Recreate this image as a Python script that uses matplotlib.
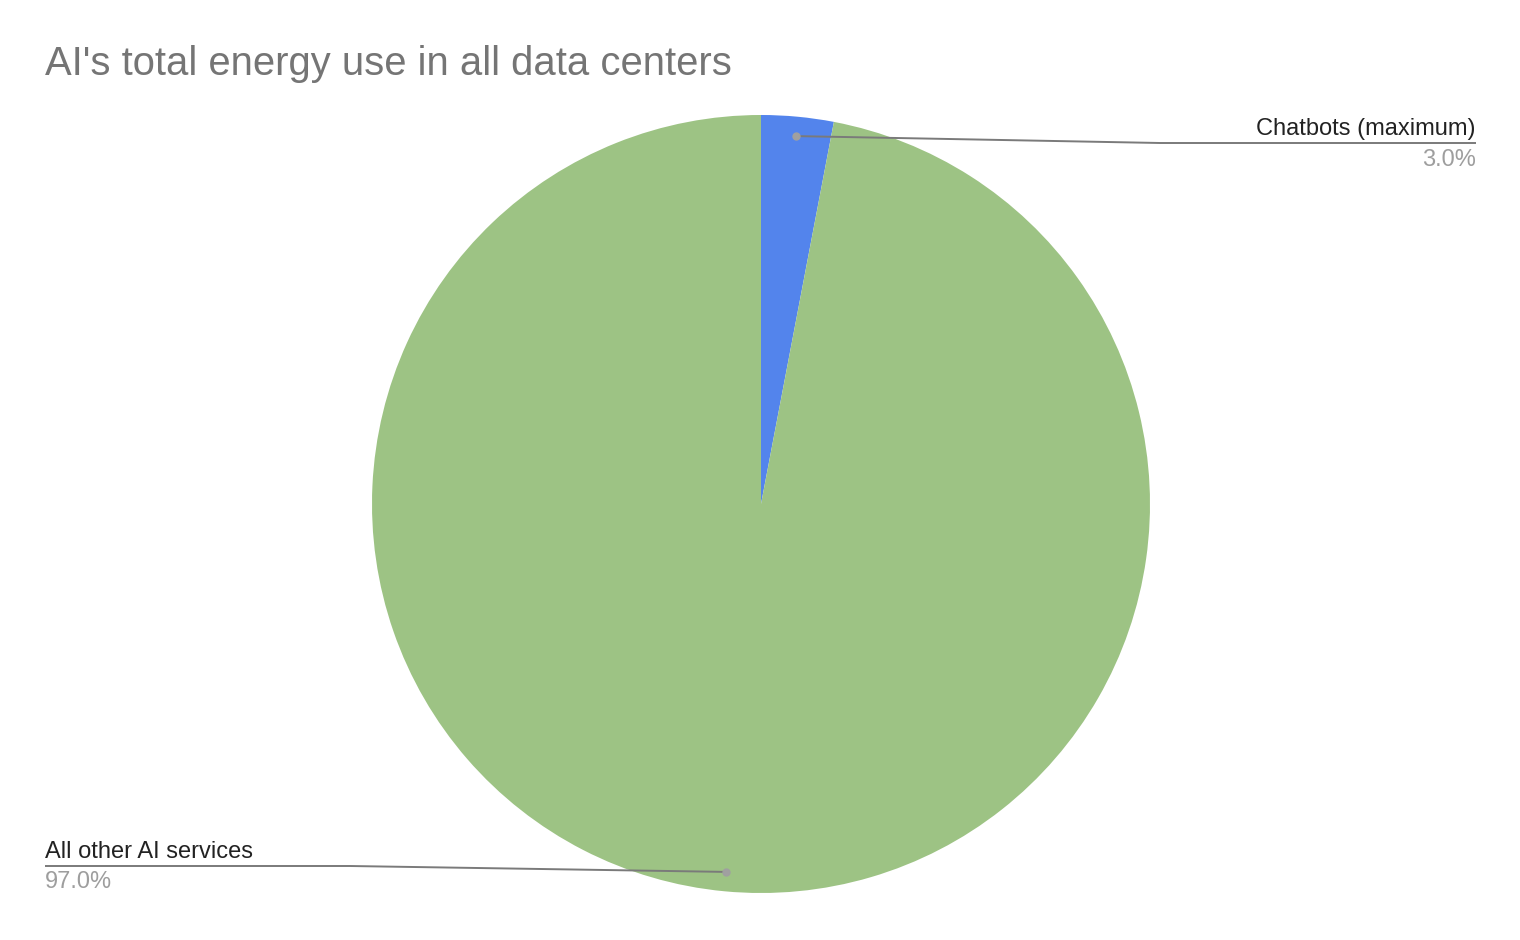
import numpy as np
import matplotlib
matplotlib.use("Agg")
import matplotlib.pyplot as plt

plt.rcParams["font.family"] = ["Liberation Sans", "DejaVu Sans"]

# data
labels = ["Chatbots (maximum)", "All other AI services"]
shares = [3.0, 97.0]
colors = ["#5384ec", "#9dc384"]
title = "AI's total energy use in all data centers"

W, H = 1520, 940
fig = plt.figure(figsize=(W / 100, H / 100), dpi=100)
ax = fig.add_axes([0, 0, 1, 1])

cx, cy, r = 761, H - 504, 389
wedges, _ = ax.pie(
    shares,
    colors=colors,
    startangle=90,
    counterclock=False,
    center=(cx, cy),
    radius=r,
    wedgeprops=dict(linewidth=0),
    frame=True,
)
ax.set_xlim(0, W)
ax.set_ylim(0, H)
ax.set_aspect("equal")
ax.axis("off")

fig.text(45 / W, 1 - 64 / H, title, fontsize=28.8, color="#757575",
         ha="left", va="center")

# leader lines + labels (bend point, label anchor x, side)
layout = [
    dict(bend=(1160, H - 143), end=(1476, H - 143), ha="right"),
    dict(bend=(350, H - 866), end=(45, H - 866), ha="left"),
]
for w, lab, val, lay in zip(wedges, labels, shares, layout):
    mid = np.deg2rad((w.theta1 + w.theta2) / 2)
    px, py = cx + 0.95 * r * np.cos(mid), cy + 0.95 * r * np.sin(mid)
    bx, by = lay["bend"]
    ex, ey = lay["end"]
    ax.plot([px, bx, ex], [py, by, ey], color="#7a7a7a", lw=1.4,
            solid_capstyle="butt", zorder=3)
    ax.plot([px], [py], "o", color="#a0a0a0", ms=5, zorder=4)
    ax.text(ex, ey + 14.5, lab, ha=lay["ha"], va="center", fontsize=17,
            color="#222222")
    ax.text(ex, ey - 16.5, f"{val:.1f}%", ha=lay["ha"], va="center",
            fontsize=17, color="#9e9e9e")

fig.savefig("out.png", dpi=100, facecolor="white")
